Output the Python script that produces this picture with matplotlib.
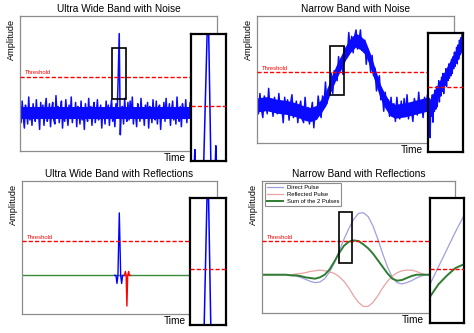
import matplotlib
matplotlib.use('Agg')
import matplotlib.pyplot as plt
import numpy as np
from matplotlib.patches import Rectangle

plt.rcParams['font.family'] = ['Liberation Sans', 'DejaVu Sans']

# ---------------- data (percent of panel height) ----------------
titles = ['Ultra Wide Band with Noise', 'Narrow Band with Noise',
          'Ultra Wide Band with Reflections', 'Narrow Band with Reflections']
threshold = [55, 56, 55, 54.5]
inset_threshold = [43, 55, 44, 43]

# UWB with noise: deviations around the noise floor, spike in the middle
uwb_level = 28
uwb_core = 4.5        # half width of the dense part of the noise band
uwb_noise = [5, -7, 9, -3, -11, 6, 2, -8, 12, -5, 3, -9, 7, -2, -6, 10, -4, 1, -12, 8,
             -3, 6, -9, 4, 11, -6, -1, 7, -10, 3, 8, -5, -8, 13, -2, 5, -7, 2, 9, -11,
             4, -6, 10, -1, -9, 6, -4, 12, -7, 2, -3, 8, -10, 5, 1, -8, 9, -5, 3, -12,
             7, -2, -6, 11, -4, 5, -9, 3, 8, -7, 0, 10, -5, -3, 6, -11, 4, 2, -8, 9,
             -4, 6, -9, 3, 10, -6, 2, -10, 7, -3, 25, 59, -16, 4, 5, -8, 11, -2, -6, 8,
             -5, 9, -3, 12, -8, 4, -1, -10, 7, 2, -6, 11, -4, 3, -9, 6, -2, 8, -11, 5,
             1, -7, 10, -3, -5, 9, -8, 4, 6, -12, 3, -2, 8, -6, 11, -4, -1, 7, -9, 2,
             9, -5, 3, -8, 12, -2, -6, 5, -10, 7, 1, -4, 10, -7, 4, -3, 8, -11, 6, -1]
uwb_zoom_x = [0, 9, 11, 13, 36, 47, 50, 57, 69, 71, 73, 100]
uwb_zoom_y = [-5, -5, 9, -5, -5, 110, 110, -5, -5, 12, -5, -5]

# Narrow band with noise
nb_core = 5.5
nb_trend_x = [0, 5, 10, 15, 20, 25, 27.5, 30, 32.5, 35, 37.5, 40, 42.5, 45, 47.5, 50, 52.5,
              55, 57.5, 60, 62.5, 65, 67.5, 70, 75, 80, 85, 88]
nb_trend_y = [30, 31, 29, 28, 26, 23, 22.5, 24, 29, 35, 46, 55, 63, 71, 77, 81, 79,
              75, 65, 53, 41, 33, 27, 25, 26, 28, 30, 31]
nb_noisy = [35, 23, 39, 27, 20, 37, 33, 23, 43, 25, 33, 21, 36, 27, 23, 39, 25, 29, 16, 36,
            25, 34, 18, 31, 38, 20, 25, 33, 16, 28, 33, 19, 16, 36, 21, 28, 15, 24, 32, 12,
            28, 19, 37, 27, 20, 37, 30, 48, 31, 43, 41, 55, 39, 57, 55, 49, 68, 57, 67, 54,
            76, 70, 68, 87, 73, 84, 71, 84, 89, 74, 80, 89, 73, 73, 81, 62, 74, 69, 56, 69,
            53, 59, 41, 49, 53, 34, 39, 25, 40, 28, 34, 21, 36, 22, 31, 17, 36, 23, 19, 33,
            21, 35, 23, 38, 19, 31, 26, 17, 35, 30, 22, 40, 25, 32, 20, 36, 28, 38, 20, 36]
nb_zoom_trend_x = [0, 100]
nb_zoom_trend_y = [36, 92]
nb_zoom = [38, 22, 45, 12, 40, 30, 48, 25, 44, 34, 52, 36, 55, 38, 50, 60, 42, 58, 47, 63,
           51, 66, 49, 62, 56, 70, 55, 68, 60, 74, 62, 72, 64, 78, 66, 80, 70, 84, 72, 79,
           88, 74, 90, 78, 94, 82, 96, 85, 99, 90]

# UWB with reflections
uwb_base = 29
uwb_direct_x = [47.5, 48.2, 48.7, 49.2, 49.9, 50.6, 51.1, 51.6, 52.2]
uwb_direct_y = [29, 29, 23, 29, 76, 29, 23, 29, 29]
uwb_refl_x = [52.5, 53.0, 53.4, 53.8, 54.2, 54.7, 55.1, 55.6]
uwb_refl_y = [29, 32, 29, 6, 29, 32, 29, 29]
uwb_refl_zoom_x = [0, 39, 48, 51, 58, 100]
uwb_refl_zoom_y = [-5, -5, 110, 110, -5, -5]

# Narrow band with reflections (sampled every 2.5 % of width)
nb_t = [0, 2.5, 5, 7.5, 10, 12.5, 15, 17.5, 20, 22.5, 25, 27.5, 30, 32.5, 35, 37.5, 40, 42.5,
        45, 47.5, 50, 52.5, 55, 57.5, 60, 62.5, 65, 67.5, 70, 72.5, 75, 77.5, 80, 82.5, 85,
        87.5, 90]
direct = [29, 29, 29, 29, 29, 29, 28.5, 28, 27, 25.5, 24, 23, 23.5, 26, 31, 38, 47, 56,
          64, 71, 75.5, 76, 73, 66, 56, 45, 35, 27, 23, 22, 23, 24.5, 26.5, 28, 29, 29, 29]
reflected = [29, 29, 29, 29, 29, 29, 29, 29.5, 30, 30.5, 31.5, 32, 32.5, 32, 31, 30, 27.5,
             24, 19, 13, 8, 5, 5, 8, 13, 19, 24, 28, 30.5, 32, 32.5, 32.5, 31.5, 30, 29, 29, 29]
pulse_sum = [29, 29, 29, 29, 29, 29, 28.5, 28.5, 28, 27, 26.5, 26, 27, 29, 33, 39, 45.5,
             51, 54, 55, 54.5, 52, 49, 45, 40, 35, 30, 26, 24.5, 25, 26.5, 28, 29, 29, 29, 29, 29]
nb_zoom_t = [0, 25, 50, 75, 100]
direct_zoom = [31, 45, 59, 73, 86]
sum_zoom = [21, 31, 38, 44, 47]
legend_labels = ['Direct Pulse', 'Reflected Pulse', 'Sum of the 2 Pulses']

# ---------------- layout ----------------
W, H = 474, 333
BLUE = '#0a0aff'
fig = plt.figure(figsize=(W / 100, H / 100), dpi=100)


def px_axes(l, t, r, b):
    return fig.add_axes([l / W, 1 - b / H, (r - l) / W, (b - t) / H])


def main_panel(l, t, r, b, i):
    ax = px_axes(l, t, r, b)
    ax.set_xlim(0, 100)
    ax.set_ylim(0, 100)
    ax.set_xticks([])
    ax.set_yticks([])
    for s in ax.spines.values():
        s.set_color('#8c8c8c')
        s.set_linewidth(0.9)
    ax.set_title(titles[i], fontsize=7.3, pad=3)
    ax.annotate('Amplitude', xy=(0, 1), xycoords='axes fraction', xytext=(-4, -3),
                textcoords='offset pixels', rotation=90, ha='right', va='top', fontsize=6.6)
    ax.annotate('Time', xy=(0.84, 0), xycoords='axes fraction', xytext=(0, -7),
                textcoords='offset pixels', ha='right', va='center', fontsize=7.3)
    ax.axhline(threshold[i], xmin=0, xmax=0.88, color='red', ls='--', lw=1.0,
               dashes=(3, 1.5), zorder=4)
    ax.text(2.5, threshold[i] + 1, 'Threshold', color='red', fontsize=4.2, va='bottom')
    return ax


def inset_panel(l, t, r, b, i):
    ax = px_axes(l, t, r, b)
    ax.set_xlim(0, 100)
    ax.set_ylim(0, 100)
    ax.set_xticks([])
    ax.set_yticks([])
    ax.set_facecolor('white')
    for s in ax.spines.values():
        s.set_color('black')
        s.set_linewidth(1.6)
    ax.axhline(inset_threshold[i], color='red', ls='--', lw=1.0, dashes=(3, 1.5), zorder=4)
    return ax


def zoom_box(ax, x0, x1, y0, y1):
    ax.add_patch(Rectangle((x0, y0), x1 - x0, y1 - y0, fill=False, ec='black', lw=1.2, zorder=5))


# panel 1
ax1 = main_panel(20, 16, 217, 151, 0)
x1 = np.linspace(0, 88, len(uwb_noise))
ax1.fill_between([x1[0], x1[-1]], uwb_level - uwb_core, uwb_level + uwb_core,
                 color=BLUE, lw=0)
ax1.plot(x1, uwb_level + np.array(uwb_noise), color=BLUE, lw=1.1)
zoom_box(ax1, 46.7, 53.8, 38.5, 76)
in1 = inset_panel(191, 34, 226, 161, 0)
in1.plot(uwb_zoom_x, uwb_zoom_y, color='blue', lw=1.1)

# panel 2
ax2 = main_panel(257, 16, 454, 143, 1)
x2 = np.linspace(0, 88, len(nb_noisy))
ty = np.array(nb_trend_y)
ax2.fill_between(nb_trend_x, ty - nb_core, ty + nb_core, color=BLUE, lw=0)
ax2.plot(x2, nb_noisy, color=BLUE, lw=1.1)
zoom_box(ax2, 37.1, 44.2, 37.8, 76.4)
in2 = inset_panel(428, 33, 463, 152, 1)
zy = np.array(nb_zoom_trend_y)
in2.fill_between(nb_zoom_trend_x, zy - nb_core, zy + nb_core, color=BLUE, lw=0)
in2.plot(np.linspace(0, 100, len(nb_zoom)), nb_zoom, color=BLUE, lw=1.0)

# panel 3
ax3 = main_panel(22, 181, 217, 314, 2)
ax3.axhline(uwb_base, xmin=0, xmax=0.88, color='#3a8a3a', lw=1.0)
ax3.plot(uwb_direct_x, uwb_direct_y, color='blue', lw=1.0)
ax3.plot(uwb_refl_x, uwb_refl_y, color='red', lw=1.0)
in3 = inset_panel(190, 198, 226, 325, 2)
in3.plot(uwb_refl_zoom_x, uwb_refl_zoom_y, color='blue', lw=1.1)

# panel 4
ax4 = main_panel(262, 181, 455, 313, 3)
ax4.plot(nb_t, direct, color='#9f9fdf', lw=0.9, label=legend_labels[0])
ax4.plot(nb_t, reflected, color='#e9a3a3', lw=0.9, label=legend_labels[1])
ax4.plot(nb_t, pulse_sum, color='#2e7d32', lw=1.4, label=legend_labels[2])
zoom_box(ax4, 40, 46.6, 38, 76.5)
leg = ax4.legend(loc='upper left', bbox_to_anchor=(0.016, 0.985), borderaxespad=0,
                 fontsize=4.2, handlelength=2.75, handletextpad=0.6, labelspacing=0.35,
                 borderpad=0.35, fancybox=False, framealpha=1)
leg.get_frame().set_edgecolor('#8c8c8c')
leg.get_frame().set_linewidth(0.8)
in4 = inset_panel(430, 198, 464, 323, 3)
in4.plot(nb_zoom_t, direct_zoom, color='#9f9fdf', lw=0.9)
in4.plot(nb_zoom_t, sum_zoom, color='#2e7d32', lw=1.4)

fig.savefig('out.png', dpi=100)
